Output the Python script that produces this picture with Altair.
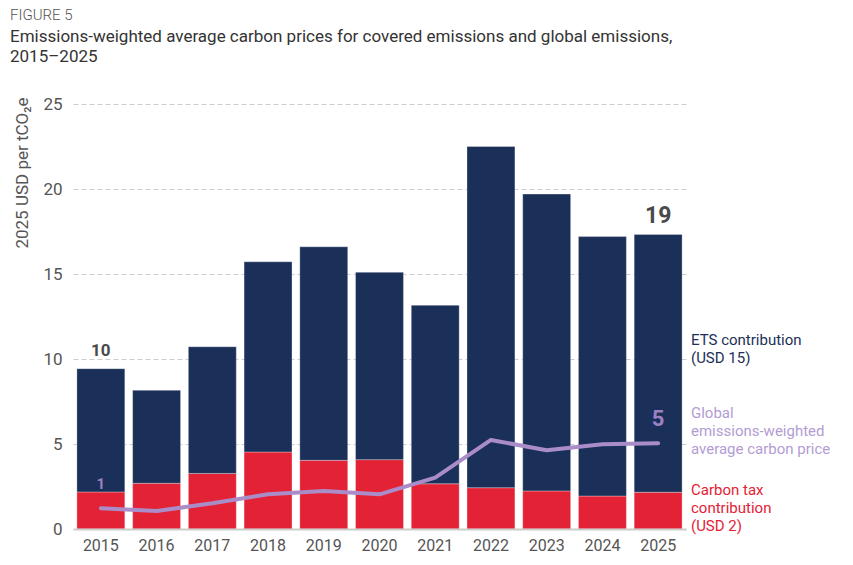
import altair as alt
import pandas as pd

# Emissions-weighted average carbon prices, 2025 USD per tCO2e
years = ["2015", "2016", "2017", "2018", "2019", "2020", "2021", "2022", "2023", "2024", "2025"]
carbon_tax = [2.18, 2.69, 3.27, 4.53, 4.04, 4.08, 2.66, 2.43, 2.24, 1.94, 2.16]
ets = [7.25, 5.47, 7.45, 11.19, 12.56, 11.02, 10.50, 20.07, 17.46, 15.26, 15.17]
global_price = [1.22, 1.06, 1.51, 2.04, 2.24, 2.04, 3.02, 5.24, 4.63, 4.98, 5.04]

# Rounded headline values shown above selected years
covered_label_years = ["2015", "2025"]
covered_label_text = ["10", "19"]
global_label_years = ["2015", "2025"]
global_label_text = ["1", "5"]

NAVY = "#1b3058"
RED = "#e42236"
PURPLE = "#a98cc8"
PURPLE_TEXT = "#9c80c2"
FONT = "Roboto"

bars_df = pd.DataFrame({
    "year": years * 2,
    "source": ["Carbon tax contribution"] * len(years) + ["ETS contribution"] * len(years),
    "price": carbon_tax + ets,
    "stack_order": [0] * len(years) + [1] * len(years),
})

totals = {y: t + e for y, t, e in zip(years, carbon_tax, ets)}
covered_df = pd.DataFrame({
    "year": covered_label_years,
    "total": [totals[y] for y in covered_label_years],
    "label": covered_label_text,
    "fs": [17, 23],
})

line_df = pd.DataFrame({"year": years, "price": global_price})
gp = dict(zip(years, global_price))
global_df = pd.DataFrame({
    "year": global_label_years,
    "price": [gp[y] for y in global_label_years],
    "label": global_label_text,
    "fs": [15, 22],
})

x_enc = alt.X(
    "year:N",
    sort=years,
    title=None,
    scale=alt.Scale(paddingInner=0.14, paddingOuter=0.07),
    axis=alt.Axis(
        labelAngle=0, labelFontSize=16, labelColor="#555555", labelFont=FONT,
        labelPadding=8, ticks=False, domainColor="#cccccc", domainWidth=2,
        zindex=1,
    ),
)
y_scale = alt.Scale(domain=[0, 25], nice=False)

bars = alt.Chart(bars_df).mark_bar(stroke="#ffffff", strokeWidth=0.6, strokeOpacity=0.5).encode(
    x=x_enc,
    y=alt.Y(
        "price:Q",
        stack="zero",
        scale=y_scale,
        title="2025 USD per tCO₂e",
        axis=alt.Axis(
            values=[0, 5, 10, 15, 20, 25], domain=False, ticks=False,
            gridDash=[5, 3], gridColor="#cccccc", gridWidth=1,
            labelFontSize=17, labelColor="#555555", labelFont=FONT, labelPadding=11,
            titleFontSize=17, titleFont=FONT, titleFontWeight="normal", titleColor="#555555",
            titleAngle=270, titleAlign="right", titleBaseline="middle",
            titleX=-51, titleY=-7,
        ),
    ),
    color=alt.Color(
        "source:N",
        scale=alt.Scale(domain=["Carbon tax contribution", "ETS contribution"], range=[RED, NAVY]),
        legend=None,
    ),
    order=alt.Order("stack_order:Q"),
)

line = alt.Chart(line_df).mark_line(color=PURPLE, strokeWidth=4, strokeCap="round", strokeJoin="round").encode(
    x=alt.X("year:N", sort=years),
    y=alt.Y("price:Q", scale=y_scale),
)

covered_text = alt.Chart(covered_df).mark_text(
    font=FONT, fontWeight="bold", color="#4a4a4a", baseline="middle", dy=-18
).encode(
    x=alt.X("year:N", sort=years),
    y=alt.Y("total:Q", scale=y_scale),
    text="label:N",
    size=alt.Size("fs:Q", scale=None, legend=None),
)

global_text = alt.Chart(global_df).mark_text(
    font=FONT, fontWeight="bold", color=PURPLE_TEXT, baseline="middle", dy=-24
).encode(
    x=alt.X("year:N", sort=years),
    y=alt.Y("price:Q", scale=y_scale),
    text="label:N",
    size=alt.Size("fs:Q", scale=None, legend=None),
)

# Series labels on the right of the plot
def side_label(text, color, ypx):
    return alt.Chart(pd.DataFrame({"t": [text]})).mark_text(
        font=FONT, fontSize=15, color=color, align="left", baseline="top", lineHeight=18
    ).encode(x=alt.value(618), y=alt.value(ypx), text="t:N")

ets_label = side_label(["ETS contribution", "(USD 15)"], NAVY, 229)
global_label = side_label(["Global", "emissions-weighted", "average carbon price"], "#b39cd4", 302)
tax_label = side_label(["Carbon tax", "contribution", "(USD 2)"], RED, 379)

# Figure heading
def heading(text, size, color, ypx, weight="normal"):
    return alt.Chart(pd.DataFrame({"t": [text]})).mark_text(
        font=FONT, fontSize=size, color=color, align="left", baseline="middle", fontWeight=weight
    ).encode(x=alt.value(-63), y=alt.value(ypx), text="t:N")

h1 = heading("FIGURE 5", 15, "#555555", -89, 300)
h2 = heading("Emissions-weighted average carbon prices for covered emissions and global emissions,", 17, "#333333", -67)
h3 = heading("2015–2025", 17, "#333333", -47)

chart = alt.layer(
    bars, line, covered_text, global_text, ets_label, global_label, tax_label, h1, h2, h3
).properties(
    width=613,
    height=425,
    background="#ffffff",
    autosize=alt.AutoSizeParams(type="none"),
    padding={"left": 73, "top": 104, "right": 167, "bottom": 36},
).configure_view(stroke=None)

chart.save("out.html", embed_options={"renderer": "svg", "actions": False})
